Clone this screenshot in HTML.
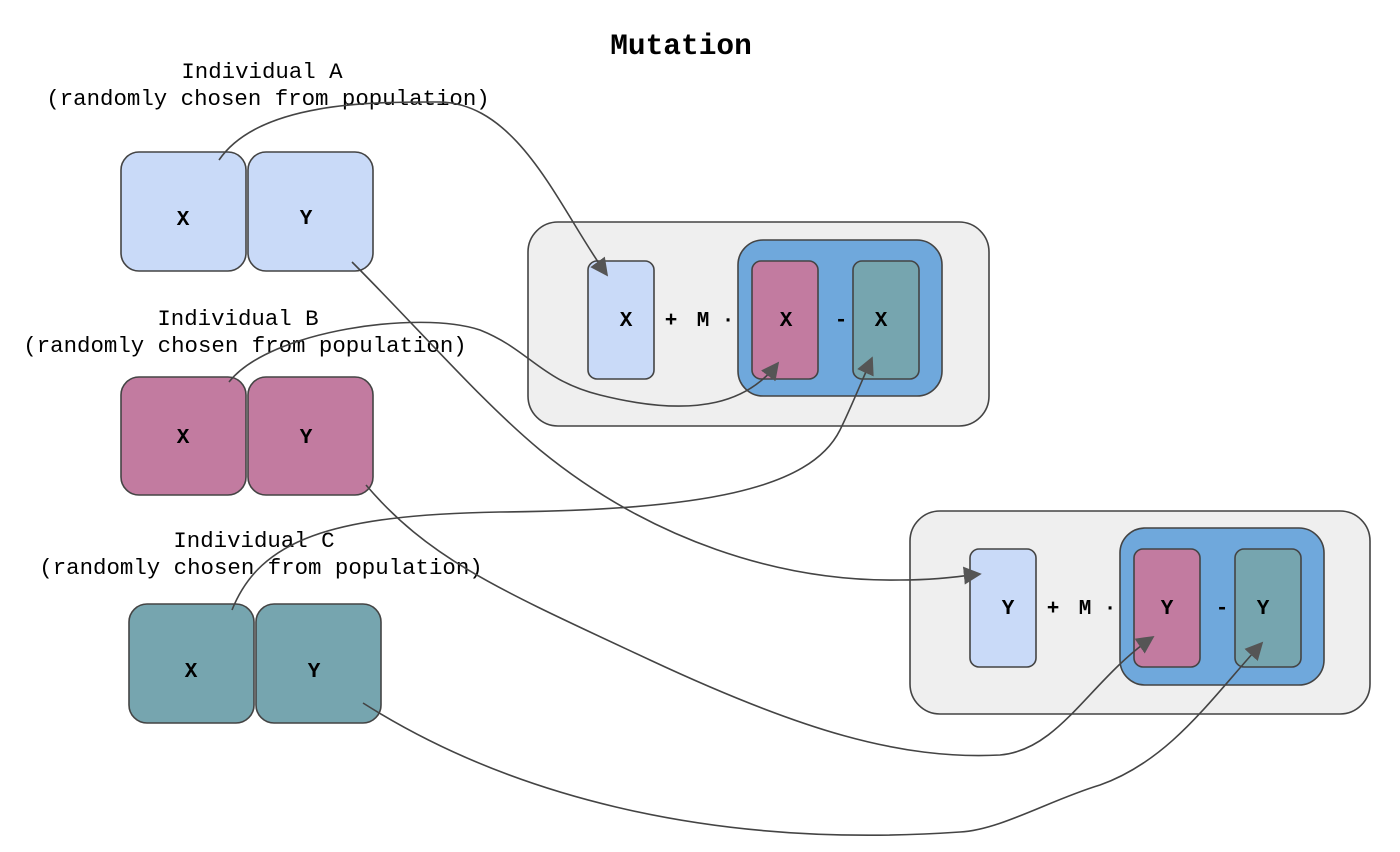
<!DOCTYPE html>
<html><head><meta charset="utf-8"><style>
html,body{margin:0;padding:0;background:#fff;}
svg{display:block;}
text{font-family:"Liberation Mono","DejaVu Sans Mono",monospace;fill:#000;}
.b{font-weight:bold;font-size:21px;}
.l{font-size:22.4px;}
</style></head><body>
<svg width="1400" height="852" viewBox="0 0 1400 852" xmlns="http://www.w3.org/2000/svg">
<defs>
<marker id="ar" viewBox="0 0 10 10" refX="9" refY="5" markerWidth="18" markerHeight="18" markerUnits="userSpaceOnUse" orient="auto">
<path d="M0,0 L10,5 L0,10 z" fill="#555"/>
</marker>
</defs>
<text x="681" y="54" text-anchor="middle" style="font-weight:bold;font-size:29.5px">Mutation</text>

<text class="l" x="262" y="78" text-anchor="middle">Individual A</text>
<text class="l" x="268" y="105" text-anchor="middle">(randomly chosen from population)</text>
<text class="l" x="238" y="325" text-anchor="middle">Individual B</text>
<text class="l" x="245" y="352" text-anchor="middle">(randomly chosen from population)</text>
<text class="l" x="254" y="547" text-anchor="middle">Individual C</text>
<text class="l" x="261" y="574" text-anchor="middle">(randomly chosen from population)</text>

<g stroke="#444" stroke-width="1.6">
<rect x="121" y="152" width="125" height="119" rx="18" fill="#c9daf8"/>
<rect x="248" y="152" width="125" height="119" rx="18" fill="#c9daf8"/>
<rect x="121" y="377" width="125" height="118" rx="18" fill="#c27ba0"/>
<rect x="248" y="377" width="125" height="118" rx="18" fill="#c27ba0"/>
<rect x="129" y="604" width="125" height="119" rx="18" fill="#76a5af"/>
<rect x="256" y="604" width="125" height="119" rx="18" fill="#76a5af"/>

<rect x="528" y="222" width="461" height="204" rx="30" fill="#efefef"/>
<rect x="588" y="261" width="66" height="118" rx="9" fill="#c9daf8"/>
<rect x="738" y="240" width="204" height="156" rx="25" fill="#6fa8dc"/>
<rect x="752" y="261" width="66" height="118" rx="9" fill="#c27ba0"/>
<rect x="853" y="261" width="66" height="118" rx="9" fill="#76a5af"/>

<rect x="910" y="511" width="460" height="203" rx="30" fill="#efefef"/>
<rect x="970" y="549" width="66" height="118" rx="9" fill="#c9daf8"/>
<rect x="1120" y="528" width="204" height="157" rx="25" fill="#6fa8dc"/>
<rect x="1134" y="549" width="66" height="118" rx="9" fill="#c27ba0"/>
<rect x="1235" y="549" width="66" height="118" rx="9" fill="#76a5af"/>
</g>

<g class="b" text-anchor="middle">
<text x="183" y="225">X</text><text x="306" y="224">Y</text>
<text x="183" y="443">X</text><text x="306" y="443">Y</text>
<text x="191" y="677">X</text><text x="314" y="677">Y</text>
<text x="626" y="326">X</text><text x="671" y="326">+</text><text x="703" y="326">M</text><text x="728" y="326">·</text>
<text x="786" y="326">X</text><text x="841" y="326">-</text><text x="881" y="326">X</text>
<text x="1008" y="614">Y</text><text x="1053" y="614">+</text><text x="1085" y="614">M</text><text x="1110" y="614">·</text>
<text x="1167" y="614">Y</text><text x="1222" y="614">-</text><text x="1263" y="614">Y</text>
</g>

<g fill="none" stroke="#444" stroke-width="1.6" marker-end="url(#ar)">
<path d="M219,160 C260,100 380,102 440,102 C520,104 560,210 607,275"/>
<path d="M352,262 C420,330 480,400 540,450 C650,540 780,582 900,580 C940,580 960,576 980,574"/>
<path d="M229,382 C270,330 420,310 480,330 C530,350 540,380 600,395 C700,420 750,400 778,363"/>
<path d="M366,485 C430,560 500,590 650,660 C800,730 900,760 1000,755 C1060,750 1090,680 1153,637"/>
<path d="M232,610 C260,540 330,515 500,512 C700,510 810,490 840,430 C850,410 860,385 872,358"/>
<path d="M363,703 C500,790 700,850 960,832 C1000,830 1050,800 1100,785 C1170,760 1210,700 1262,643"/>
</g>
</svg>
</body></html>
